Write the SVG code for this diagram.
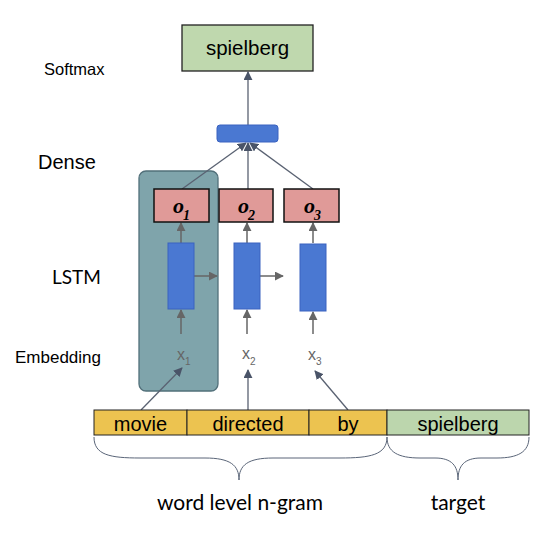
<svg xmlns="http://www.w3.org/2000/svg" width="550" height="539" viewBox="0 0 550 539">
<style>
.lbl{font-family:"Liberation Sans",Arial,sans-serif;fill:#000}
.hum{font-family:Lato,"Liberation Sans",sans-serif;fill:#000}
.ob{fill:#e09a98;stroke:#111;stroke-width:1.5}
.lstm{fill:#4a78d2;stroke:#3a62c0;stroke-width:1}
.ln{stroke:#5a6272;stroke-width:1.3;fill:none}
.gln{stroke:#666;stroke-width:1.5;fill:none}
.ot{font-family:"Liberation Serif","Times New Roman",serif;font-weight:bold;font-style:italic;font-size:22px}
.xs{font-family:"Liberation Sans",Arial,sans-serif;fill:#666;font-size:16px}
.brace{stroke:#5a6578;stroke-width:1;fill:none}
</style>
<defs>
<marker id="ah" viewBox="0 0 10 10" refX="9" refY="5" markerWidth="9" markerHeight="9" orient="auto" markerUnits="userSpaceOnUse">
<path d="M0,0 L10,5 L0,10 z" fill="#4a5468"/>
</marker>
<marker id="ag" viewBox="0 0 10 10" refX="9" refY="5" markerWidth="9" markerHeight="9" orient="auto" markerUnits="userSpaceOnUse">
<path d="M0,0 L10,5 L0,10 z" fill="#666"/>
</marker>
</defs>
<rect width="550" height="539" fill="#fff"/>

<g id="layer-labels">
<text class="lbl" x="44" y="75" font-size="16.5">Softmax</text>
<text class="lbl" x="38" y="169" font-size="20">Dense</text>
<text class="hum" x="52" y="284" font-size="19">LSTM</text>
<text class="lbl" x="15" y="363" font-size="17">Embedding</text>
</g>

<g id="window">
<rect x="139" y="171" width="79" height="220" rx="7" fill="#7fa4ab" stroke="#52707a" stroke-width="1.3"/>
</g>

<g id="connectors">
<line class="ln" x1="248" y1="125" x2="248" y2="72" marker-end="url(#ah)"/>
<line class="ln" x1="182" y1="189" x2="246" y2="143" marker-end="url(#ah)"/>
<line class="ln" x1="248" y1="189" x2="248" y2="143" marker-end="url(#ah)"/>
<line class="ln" x1="313" y1="189" x2="250" y2="143" marker-end="url(#ah)"/>
<line class="gln" x1="181" y1="243" x2="181" y2="223" marker-end="url(#ag)"/>
<line class="gln" x1="247" y1="243" x2="247" y2="223" marker-end="url(#ag)"/>
<line class="gln" x1="313" y1="243" x2="313" y2="223" marker-end="url(#ag)"/>
<line class="gln" x1="194" y1="276" x2="217" y2="276" marker-end="url(#ag)"/>
<line class="gln" x1="260" y1="276" x2="283" y2="276" marker-end="url(#ag)"/>
<line class="gln" x1="181" y1="334" x2="181" y2="310" marker-end="url(#ag)"/>
<line class="gln" x1="247" y1="334" x2="247" y2="310" marker-end="url(#ag)"/>
<line class="gln" x1="313" y1="334" x2="313" y2="312" marker-end="url(#ag)"/>
<line class="ln" x1="141" y1="410" x2="182" y2="368" marker-end="url(#ah)"/>
<line class="ln" x1="248" y1="410" x2="248" y2="370" marker-end="url(#ah)"/>
<line class="ln" x1="348" y1="410" x2="315" y2="371" marker-end="url(#ah)"/>
</g>

<g id="softmax-out">
<rect x="182" y="25" width="131" height="46" fill="#bfd8ae" stroke="#222" stroke-width="1.3"/>
<text class="lbl" x="247.5" y="55" font-size="20.5" text-anchor="middle">spielberg</text>
</g>

<g id="dense">
<rect x="217" y="125" width="61" height="17" rx="3" fill="#4a78d2" stroke="#3a62c0" stroke-width="1"/>
</g>

<g id="o1">
<rect class="ob" x="154" y="189" width="55" height="33"/>
<text class="ot" x="173" y="213">o<tspan font-size="14" dy="7" dx="-1">1</tspan></text>
</g>
<g id="o2">
<rect class="ob" x="219" y="189" width="54" height="33"/>
<text class="ot" x="238" y="213">o<tspan font-size="14" dy="7" dx="-1">2</tspan></text>
</g>
<g id="o3">
<rect class="ob" x="284" y="189" width="55" height="33"/>
<text class="ot" x="304" y="213">o<tspan font-size="14" dy="7" dx="-1">3</tspan></text>
</g>

<g id="lstm1"><rect class="lstm" x="168" y="243" width="26" height="66"/></g>
<g id="lstm2"><rect class="lstm" x="234" y="243" width="26" height="66"/></g>
<g id="lstm3"><rect class="lstm" x="300" y="244" width="26" height="67"/></g>

<g id="x1"><text class="xs" x="177" y="360">x<tspan font-size="10" dy="5">1</tspan></text></g>
<g id="x2"><text class="xs" x="242" y="359">x<tspan font-size="10" dy="6">2</tspan></text></g>
<g id="x3"><text class="xs" x="308" y="360">x<tspan font-size="10" dy="5">3</tspan></text></g>

<g id="words">
<rect x="94" y="410" width="93" height="25" fill="#ecc350" stroke="#222" stroke-width="1"/>
<rect x="187" y="410" width="122" height="25" fill="#ecc350" stroke="#222" stroke-width="1"/>
<rect x="309" y="410" width="78" height="25" fill="#ecc350" stroke="#222" stroke-width="1"/>
<rect x="387" y="410" width="142" height="25" fill="#bcd6ad" stroke="#222" stroke-width="1"/>
<text class="lbl" x="140.5" y="431" font-size="20" text-anchor="middle">movie</text>
<text class="lbl" x="248" y="431" font-size="20" text-anchor="middle">directed</text>
<text class="lbl" x="348" y="431" font-size="20" text-anchor="middle">by</text>
<text class="lbl" x="458" y="431" font-size="20" text-anchor="middle">spielberg</text>
</g>

<g id="braces">
<path class="brace" d="M94,437 C94,455 110,458 140,458 L205,458 C230,458 239,465 239,480 C239,465 248,458 273,458 L340,458 C370,458 387,455 387,437"/>
<path class="brace" d="M387,437 C387,452 398,458 420,458 L435,458 C452,458 458,466 458,480 C458,466 464,458 481,458 L497,458 C518,458 529,452 529,437"/>
<text class="hum" x="240" y="510" font-size="21" text-anchor="middle">word level n-gram</text>
<text class="hum" x="458" y="510" font-size="21" text-anchor="middle">target</text>
</g>
</svg>
